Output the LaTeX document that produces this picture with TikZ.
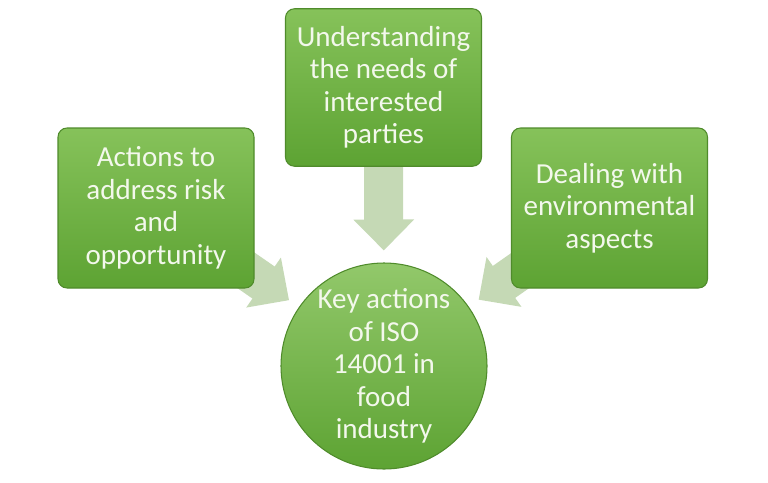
\documentclass[tikz,border=0pt]{standalone}
\usepackage{fontspec}
\setmainfont{Carlito}
\usetikzlibrary{arrows.meta, backgrounds}
\definecolor{boxtop}{HTML}{86C25A}
\definecolor{boxbot}{HTML}{5DA333}
\definecolor{arrowfill}{HTML}{C5D9B5}
\definecolor{textfg}{HTML}{F3F8EC}

\begin{document}
\begin{tikzpicture}[
    box/.style={rectangle, draw=boxbot!85!black, line width=0.6pt, rounded corners=1.8mm, top color=boxtop, bottom color=boxbot, text=textfg, align=center, minimum width=3.92cm, minimum height=3.15cm, font=\fontsize{16.5}{18.5}\selectfont},
    hub/.style={circle, draw=boxbot!85!black, line width=0.6pt, top color=boxtop!90!white, bottom color=boxbot, text=textfg, align=center, minimum size=4.12cm, inner sep=0pt, font=\fontsize{16.5}{18.5}\selectfont},
    blockarrow/.style={-{Triangle[length=0.62cm, width=1.18cm]}, line width=0.78cm, draw=arrowfill, shorten >=0.24cm}
]
\useasboundingbox (0,0) rectangle (15.36,-9.64);
\node[box] (needs) at (7.67, -1.75) {Understanding\\the needs of\\interested\\parties};
\node[box, minimum height=3.2cm] (risk) at (3.12, -4.16) {Actions to\\address risk\\and\\opportunity};
\node[box, minimum height=3.2cm] (env) at (12.19, -4.16) {Dealing with\\environmental\\aspects};
\node[hub] (iso) at (7.68, -7.32) {Key actions\\of ISO\\14001 in\\food\\industry};
\begin{scope}[on background layer]
\draw[blockarrow] (needs.center) -- (iso);
\draw[blockarrow] (risk.center) -- (iso);
\draw[blockarrow] (env.center) -- (iso);
\end{scope}
\end{tikzpicture}
\end{document}
